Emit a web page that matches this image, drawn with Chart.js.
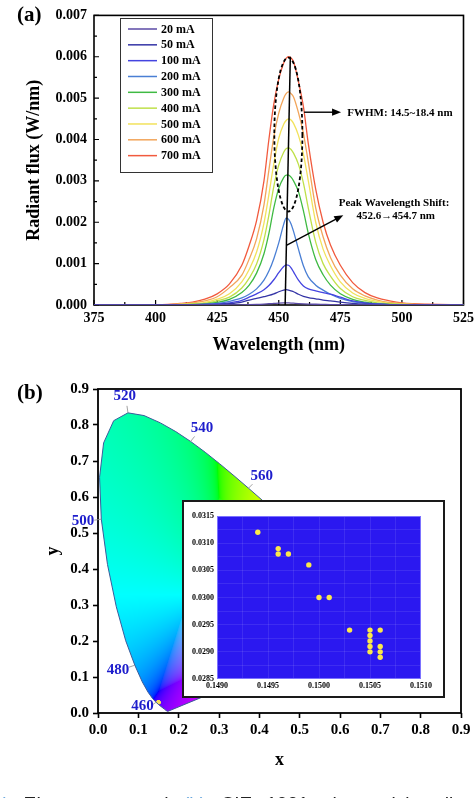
<!DOCTYPE html>
<html>
<head>
<meta charset="utf-8">
<script src="https://cdn.jsdelivr.net/npm/chart.js@4.4.1/dist/chart.umd.min.js"></script>
<style>
  html, body { margin: 0; padding: 0; background: #fff; }
  body { width: 474px; height: 798px; overflow: hidden; position: relative; }
  .abs { position: absolute; }
  .tag { font: bold 21px "Liberation Serif", "Times New Roman", serif; line-height: 24px; color: #000; }
  #insetBox { left: 182px; top: 500px; width: 263px; height: 198px; box-sizing: border-box;
    border: 2px solid #1a1a1a; background: #fff; }
  #caption { left: -14px; top: 793.5px; white-space: nowrap; font: 19px "Liberation Sans", Arial, sans-serif;
    line-height: 19px; color: #222; word-spacing: 9px; }
  #caption span { color: #6aa8de; }
</style>
</head>
<body>
<canvas id="spec" class="abs" width="490" height="365" style="left:0;top:0"></canvas>
<canvas id="cie" class="abs" width="474" height="433" style="left:0;top:365px"></canvas>
<div id="insetBox" class="abs"><canvas id="inset" width="259" height="194"></canvas></div>
<div class="abs tag" style="left:17px;top:2px">(a)</div>
<div class="abs tag" style="left:17px;top:380px">(b)</div>
<div id="caption" class="abs"><span>(a)</span> EL spectra and <span>(b)</span> CIE 1931 chromaticity diagram</div>
<script>
// Panel (a): EL spectra at several drive currents; panel (b): CIE 1931 diagram + zoomed inset.
const FONT = '"Liberation Serif", "Times New Roman", serif';
Chart.defaults.font.family = FONT;
Chart.defaults.font.weight = "bold";
Chart.defaults.color = "#000";

// ---------- (a) spectra ----------
const wavelengths = [375, 395, 405, 410, 415, 420, 425, 430, 435, 438, 441, 444, 446, 448, 450, 452, 453, 454,
  455, 456, 458, 460, 462, 465, 468, 471, 475, 480, 485, 490, 495, 500, 505, 510, 525];
const currentLabels = ["20 mA", "50 mA", "100 mA", "200 mA", "300 mA", "400 mA", "500 mA", "600 mA", "700 mA"];
const lineColors = ["#5b4aa6", "#3434a6", "#4444e0", "#4a7fd4", "#3fba43", "#bfe04a", "#f2e25c", "#f2a55a", "#f15a3e"];

const flux20 = [0, 0, 0, 0, 0, 0, 0, 0.000002, 0.000005, 0.000008, 0.000013, 0.000022, 0.00003, 0.000037, 0.000044,
  0.000049, 0.00005, 0.000049, 0.000047, 0.000043, 0.000035, 0.000028, 0.000023, 0.000018, 0.000014, 0.00001,
  0.000007, 0.000004, 0.000002, 0.000001, 0, 0, 0, 0, 0];
const flux50 = [0, 0, 0, 0, 0.000003, 0.000006, 0.00001, 0.00003, 0.00007, 0.00012, 0.00016, 0.0002, 0.00023, 0.00027,
  0.00032, 0.00036, 0.00037, 0.00036, 0.00034, 0.00032, 0.00026, 0.00021, 0.00018, 0.00015, 0.00012, 0.0001,
  0.00007, 0.00004, 0.00002, 0.00001, 0.000005, 0, 0, 0, 0];
const flux100 = [0, 0, 0, 0.000003, 0.000006, 0.000012, 0.000025, 0.00005, 0.00011, 0.00019, 0.00027, 0.00037, 0.00047,
  0.00061, 0.00078, 0.00093, 0.00097, 0.00096, 0.0009, 0.0008, 0.0006, 0.00046, 0.00039, 0.00034, 0.0003, 0.00026,
  0.00019, 0.0001, 0.00005, 0.000025, 0.00001, 0.000005, 0, 0, 0];
const flux200 = [0, 0, 0, 0.000005, 0.00001, 0.00002, 0.00004, 0.00009, 0.00017, 0.00026, 0.00039, 0.0006, 0.00082,
  0.00112, 0.0015, 0.00195, 0.0021, 0.00207, 0.00196, 0.00178, 0.00135, 0.00095, 0.00068, 0.00048, 0.00036, 0.00026,
  0.00016, 0.00008, 0.00004, 0.00002, 0.00001, 0.000005, 0, 0, 0];
const flux300 = [0, 0, 0, 0.000005, 0.000013, 0.000027, 0.000063, 0.000135, 0.0003, 0.00048, 0.00077, 0.00124, 0.00173,
  0.00235, 0.00282, 0.00308, 0.00314, 0.00314, 0.00309, 0.003, 0.00274, 0.00228, 0.00173, 0.0011, 0.00073, 0.00048,
  0.00027, 0.000135, 0.00007, 0.00003, 0.000016, 0.000007, 0.000003, 0, 0];
const flux400 = [0, 0, 0, 0.00001, 0.00002, 0.00004, 0.0001, 0.00019, 0.00041, 0.00065, 0.00099, 0.00158, 0.00217,
  0.00287, 0.00338, 0.00369, 0.00378, 0.0038, 0.00376, 0.00367, 0.0034, 0.00295, 0.00234, 0.00152, 0.001, 0.0007,
  0.0004, 0.0002, 0.00011, 0.000053, 0.000026, 0.000015, 0.000006, 0, 0];
const flux500 = [0, 0, 0.000005, 0.000016, 0.00003, 0.000065, 0.00014, 0.00027, 0.00056, 0.00086, 0.00128, 0.00198,
  0.00267, 0.00342, 0.00403, 0.00437, 0.00446, 0.0045, 0.00447, 0.00439, 0.0041, 0.00365, 0.003, 0.002, 0.00135,
  0.00095, 0.00056, 0.00029, 0.00016, 0.000086, 0.00004, 0.00002, 0.00001, 0.000005, 0];
const flux600 = [0, 0, 0.00001, 0.00003, 0.00005, 0.0001, 0.0002, 0.00042, 0.00072, 0.00111, 0.0016, 0.00242, 0.00326,
  0.00407, 0.00464, 0.005, 0.00511, 0.00515, 0.00511, 0.00503, 0.00465, 0.00415, 0.00345, 0.00235, 0.00165, 0.00115,
  0.00072, 0.00039, 0.00022, 0.00012, 0.00006, 0.00004, 0.00002, 0.00001, 0];
const flux700 = [0, 0, 0.000015, 0.00004, 0.00007, 0.00014, 0.00027, 0.00051, 0.00096, 0.00144, 0.00204, 0.003, 0.004,
  0.00486, 0.00546, 0.00585, 0.00596, 0.006, 0.00597, 0.00588, 0.0054, 0.0048, 0.0039, 0.0028, 0.002, 0.00145,
  0.00096, 0.00054, 0.0003, 0.00017, 0.0001, 0.00005, 0.00003, 0.00002, 0];
const fluxSeries = [flux20, flux50, flux100, flux200, flux300, flux400, flux500, flux600, flux700];

// ---------- (b) CIE 1931 spectral locus + measured coordinates ----------
const locusWave = [380, 390, 400, 410, 420, 430, 440, 450, 455, 460, 465, 470, 475, 480, 485, 490, 495, 500, 505, 510,
  515, 520, 525, 530, 535, 540, 545, 550, 555, 560, 565, 570, 575, 580, 585, 590, 595, 600, 605, 610, 620, 630, 640,
  650, 660, 680, 700];
const locusX = [0.1741, 0.1738, 0.1733, 0.1726, 0.1714, 0.1689, 0.1644, 0.1566, 0.1510, 0.1440, 0.1355, 0.1241, 0.1096,
  0.0913, 0.0687, 0.0454, 0.0235, 0.0082, 0.0039, 0.0139, 0.0389, 0.0743, 0.1142, 0.1547, 0.1929, 0.2296, 0.2658,
  0.3016, 0.3373, 0.3731, 0.4087, 0.4441, 0.4788, 0.5125, 0.5448, 0.5752, 0.6029, 0.6270, 0.6482, 0.6658, 0.6915,
  0.7079, 0.7190, 0.7260, 0.7300, 0.7334, 0.7347];
const locusY = [0.0050, 0.0049, 0.0048, 0.0048, 0.0051, 0.0069, 0.0109, 0.0177, 0.0227, 0.0297, 0.0399, 0.0578, 0.0868,
  0.1327, 0.2007, 0.2950, 0.4127, 0.5384, 0.6548, 0.7502, 0.8120, 0.8338, 0.8262, 0.8059, 0.7816, 0.7543, 0.7243,
  0.6923, 0.6589, 0.6245, 0.5896, 0.5547, 0.5202, 0.4866, 0.4544, 0.4242, 0.3965, 0.3725, 0.3514, 0.3340, 0.3083,
  0.2920, 0.2809, 0.2740, 0.2700, 0.2666, 0.2653];
const waveTags = [460, 480, 500, 520, 540, 560];

const cieX = [0.1494, 0.1496, 0.1496, 0.1497, 0.1499, 0.1500, 0.1501, 0.1503, 0.1505, 0.1505, 0.1505, 0.1505, 0.1505,
  0.1506, 0.1506, 0.1506, 0.1506];
const cieY = [0.0312, 0.0309, 0.0308, 0.0308, 0.0306, 0.0300, 0.0300, 0.0294, 0.0294, 0.0293, 0.0292, 0.0291, 0.0290,
  0.0294, 0.0291, 0.0290, 0.0289];

function pairs(xs, ys) {
  return xs.map((x, i) => ({ x, y: ys[i] }));
}

function arrow(ctx, [x1, y1], [x2, y2]) {
  const ang = Math.atan2(y2 - y1, x2 - x1), hl = 9, hw = 3.6;
  ctx.beginPath();
  ctx.moveTo(x1, y1);
  ctx.lineTo(x2 - hl * 0.8 * Math.cos(ang), y2 - hl * 0.8 * Math.sin(ang));
  ctx.stroke();
  ctx.beginPath();
  ctx.moveTo(x2, y2);
  ctx.lineTo(x2 - hl * Math.cos(ang) + hw * Math.sin(ang), y2 - hl * Math.sin(ang) - hw * Math.cos(ang));
  ctx.lineTo(x2 - hl * Math.cos(ang) - hw * Math.sin(ang), y2 - hl * Math.sin(ang) + hw * Math.cos(ang));
  ctx.closePath();
  ctx.fill();
}

// frame, inward ticks, legend and annotations of panel (a)
const specDecor = {
  id: "specDecor",
  beforeDatasetsDraw(chart) {
    const { ctx, chartArea: a, scales: { x, y } } = chart;
    ctx.save();
    ctx.strokeStyle = "#000";
    ctx.lineWidth = 1.6;
    ctx.strokeRect(a.left, a.top, a.right - a.left, a.bottom - a.top);
    ctx.lineWidth = 1.2;
    ctx.beginPath();
    const xt = x.ticks.map((t) => t.value);
    xt.forEach((v, i) => {
      const px = x.getPixelForValue(v);
      ctx.moveTo(px, a.bottom); ctx.lineTo(px, a.bottom - 5);
      if (i < xt.length - 1) {
        const pm = x.getPixelForValue((v + xt[i + 1]) / 2);
        ctx.moveTo(pm, a.bottom); ctx.lineTo(pm, a.bottom - 3);
      }
    });
    const yt = y.ticks.map((t) => t.value);
    yt.forEach((v, i) => {
      const py = y.getPixelForValue(v);
      ctx.moveTo(a.left, py); ctx.lineTo(a.left + 5, py);
      if (i < yt.length - 1) {
        const pm = y.getPixelForValue((v + yt[i + 1]) / 2);
        ctx.moveTo(a.left, pm); ctx.lineTo(a.left + 3, pm);
      }
    });
    ctx.stroke();
    ctx.restore();
  },
  afterDatasetsDraw(chart) {
    const { ctx, scales: { x, y } } = chart;
    const P = (wl, f) => [x.getPixelForValue(wl), y.getPixelForValue(f)];
    ctx.save();
    // legend
    ctx.strokeStyle = "#333";
    ctx.lineWidth = 1;
    ctx.strokeRect(120.5, 18.5, 92, 154);
    ctx.font = `bold 12px ${FONT}`;
    ctx.textBaseline = "middle";
    chart.data.datasets.forEach((ds, i) => {
      const yy = 29 + i * 15.83;
      ctx.strokeStyle = ds.borderColor;
      ctx.lineWidth = 1.5;
      ctx.beginPath(); ctx.moveTo(128, yy); ctx.lineTo(157, yy); ctx.stroke();
      ctx.fillStyle = "#000";
      ctx.fillText(ds.label, 161, yy + 0.5);
    });
    // peak shift line
    ctx.strokeStyle = "#000";
    ctx.fillStyle = "#000";
    ctx.lineWidth = 1.5;
    ctx.beginPath();
    ctx.moveTo(...P(452.6, 0));
    ctx.lineTo(...P(454.7, 0.006));
    ctx.stroke();
    // FWHM ellipse
    const [cx, cy] = P(453.9, 0.00412);
    const rx = x.getPixelForValue(459.6) - cx;
    const ry = cy - y.getPixelForValue(0.00598);
    ctx.setLineDash([3.5, 2.5]);
    ctx.lineWidth = 1.8;
    ctx.beginPath();
    ctx.ellipse(cx, cy, rx, ry, 0, 0, Math.PI * 2);
    ctx.stroke();
    ctx.setLineDash([]);
    // arrows + notes
    ctx.lineWidth = 1.4;
    arrow(ctx, P(460.3, 0.00466), P(475.3, 0.00466));
    arrow(ctx, P(453.1, 0.00144), P(476.2, 0.00217));
    ctx.font = `bold 11px ${FONT}`;
    ctx.textAlign = "left";
    const [fx, fy] = P(476.6, 0.00466);
    ctx.fillText("FWHM: 14.5~18.4 nm", fx + 3, fy + 0.5);
    ctx.textAlign = "center";
    ctx.fillText("Peak Wavelength Shift:", ...P(496.8, 0.00247));
    ctx.fillText("452.6\u2192454.7 nm", ...P(497.5, 0.00214));
    ctx.restore();
  },
};

new Chart(document.getElementById("spec"), {
  type: "line",
  data: {
    datasets: fluxSeries.map((s, i) => ({
      label: currentLabels[i],
      data: pairs(wavelengths, s),
      borderColor: lineColors[i],
      borderWidth: 1.3,
      pointRadius: 0,
      fill: false,
      cubicInterpolationMode: "monotone",
    })),
  },
  options: {
    responsive: false,
    animation: false,
    layout: { padding: { top: 9, right: 26.5, left: 0, bottom: 0 } },
    plugins: { legend: { display: false }, tooltip: { enabled: false } },
    scales: {
      x: {
        type: "linear",
        min: 375,
        max: 525,
        ticks: { stepSize: 25, font: { size: 14 }, padding: 5, maxRotation: 0 },
        grid: { display: false, drawTicks: false },
        border: { display: false },
        title: { display: true, text: "Wavelength (nm)", font: { size: 18 }, padding: { bottom: 9 } },
        afterFit: (s) => { s.height = 60; },
      },
      y: {
        min: 0,
        max: 0.007,
        ticks: { stepSize: 0.001, font: { size: 14 }, padding: 7, callback: (v) => v.toFixed(3) },
        grid: { display: false, drawTicks: false },
        border: { display: false },
        title: { display: true, text: "Radiant flux (W/nm)", font: { size: 18 }, padding: { top: 24 } },
        afterFit: (s) => { s.width = 94; },
      },
    },
  },
  plugins: [specDecor],
});

// xy chromaticity -> displayable sRGB (out-of-gamut colours desaturated towards white, then normalised)
function xyToRgb(cx, cy) {
  cy = Math.max(cy, 0.001);
  const X = cx / cy, Y = 1, Z = (1 - cx - cy) / cy;
  let r = 3.2406 * X - 1.5372 * Y - 0.4986 * Z;
  let g = -0.9689 * X + 1.8758 * Y + 0.0415 * Z;
  let b = 0.0557 * X - 0.204 * Y + 1.057 * Z;
  const lo = Math.min(r, g, b, 0);
  r -= lo; g -= lo; b -= lo;
  const m = Math.max(r, g, b) || 1;
  return [r / m, g / m, b / m].map((c) =>
    Math.round(255 * (c <= 0.0031308 ? 12.92 * c : 1.055 * Math.pow(c, 1 / 2.4) - 0.055))
  );
}

// label placement relative to the locus point: [textDx, textDy, leaderDx, leaderDy]
const tagOffsets = {
  460: [-13.5, 3.7, -3, 2],
  480: [-16.8, 4.8, -6, 2],
  500: [-18.3, 1.8, -7, 1],
  520: [-3.3, -16.3, -1, -7],
  540: [11.4, -13.2, 4, -5],
  560: [13.2, -12.2, 4, -4],
};

const cieDecor = {
  id: "cieDecor",
  beforeDatasetsDraw(chart) {
    const { ctx, chartArea: a, scales: { x, y } } = chart;
    const w = Math.round(a.right - a.left), h = Math.round(a.bottom - a.top);
    const off = document.createElement("canvas");
    off.width = w;
    off.height = h;
    const octx = off.getContext("2d");
    const img = octx.createImageData(w, h);
    for (let j = 0; j < h; j++) {
      const vy = y.getValueForPixel(a.top + j + 0.5);
      for (let i = 0; i < w; i++) {
        const rgb = xyToRgb(x.getValueForPixel(a.left + i + 0.5), vy);
        const k = (j * w + i) * 4;
        img.data[k] = rgb[0];
        img.data[k + 1] = rgb[1];
        img.data[k + 2] = rgb[2];
        img.data[k + 3] = 255;
      }
    }
    octx.putImageData(img, 0, 0);
    ctx.save();
    ctx.beginPath();
    locusX.forEach((lx, i) => {
      const px = x.getPixelForValue(lx), py = y.getPixelForValue(locusY[i]);
      if (i) ctx.lineTo(px, py); else ctx.moveTo(px, py);
    });
    ctx.closePath();
    ctx.clip();
    ctx.drawImage(off, a.left, a.top);
    ctx.restore();
  },
  afterDraw(chart) {
    const { ctx, chartArea: a, scales: { x, y } } = chart;
    ctx.save();
    ctx.strokeStyle = "#000";
    ctx.lineWidth = 1.8;
    ctx.strokeRect(a.left, a.top, a.right - a.left, a.bottom - a.top);
    ctx.font = `bold 15px ${FONT}`;
    ctx.textAlign = "center";
    ctx.textBaseline = "middle";
    waveTags.forEach((wl) => {
      const i = locusWave.indexOf(wl);
      const px = x.getPixelForValue(locusX[i]), py = y.getPixelForValue(locusY[i]);
      const [tx, ty, lx, ly] = tagOffsets[wl];
      ctx.strokeStyle = "#8a8a8a";
      ctx.lineWidth = 0.8;
      ctx.beginPath(); ctx.moveTo(px, py); ctx.lineTo(px + lx, py + ly); ctx.stroke();
      ctx.fillStyle = "#1d1dcc";
      ctx.fillText(String(wl), px + tx, py + ty);
    });
    ctx.restore();
  },
};

new Chart(document.getElementById("cie"), {
  type: "scatter",
  data: {
    datasets: [
      {
        label: "locus",
        data: pairs(locusX.concat(locusX[0]), locusY.concat(locusY[0])),
        showLine: true,
        borderColor: "#3b5b9b",
        borderWidth: 1,
        pointRadius: 0,
        tension: 0,
      },
      {
        label: "LED",
        data: pairs(cieX, cieY),
        pointRadius: 1.8,
        backgroundColor: "#f3df5a",
        borderWidth: 0,
      },
    ],
  },
  options: {
    responsive: false,
    animation: false,
    layout: { padding: { top: 24, right: 13, left: 0, bottom: 0 } },
    plugins: { legend: { display: false }, tooltip: { enabled: false } },
    scales: {
      x: {
        type: "linear",
        min: 0,
        max: 0.9,
        ticks: { stepSize: 0.1, font: { size: 15 }, padding: 3, maxRotation: 0, callback: (v) => v.toFixed(1) },
        grid: { drawOnChartArea: false, color: "#000", tickLength: 5, tickWidth: 1.6 },
        border: { display: false },
        title: { display: true, text: "x", font: { size: 18 }, padding: { bottom: 27 } },
        afterFit: (s) => { s.height = 85; },
      },
      y: {
        min: 0,
        max: 0.9,
        ticks: { stepSize: 0.1, font: { size: 15 }, padding: 4, callback: (v) => v.toFixed(1) },
        grid: { drawOnChartArea: false, color: "#000", tickLength: 5, tickWidth: 1.6 },
        border: { display: false },
        title: { display: true, text: "y", font: { size: 18 }, padding: { top: 43 } },
        afterFit: (s) => { s.width = 98; },
      },
    },
  },
  plugins: [cieDecor],
});

// ---------- inset (zoom of the measured points) ----------
const insetTick = (v) => (Math.round(v / 0.00025) % 2 === 0 ? v.toFixed(4) : "");
const insetBg = {
  id: "insetBg",
  beforeDraw(chart) {
    const { ctx, chartArea: a } = chart;
    ctx.save();
    ctx.fillStyle = "#2b18f0";
    ctx.fillRect(a.left, a.top, a.right - a.left, a.bottom - a.top);
    ctx.restore();
  },
  afterDraw(chart) {
    const { ctx, chartArea: a } = chart;
    ctx.save();
    ctx.strokeStyle = "#7c72ff";
    ctx.lineWidth = 1;
    ctx.strokeRect(a.left + 0.5, a.top + 0.5, a.right - a.left - 1, a.bottom - a.top - 1);
    ctx.restore();
  },
};

new Chart(document.getElementById("inset"), {
  type: "scatter",
  data: {
    datasets: [{ data: pairs(cieX, cieY), pointRadius: 2.7, backgroundColor: "#fbe84a", borderWidth: 0 }],
  },
  options: {
    responsive: false,
    animation: false,
    layout: { padding: { top: 14, right: 22, left: 0, bottom: 0 } },
    plugins: { legend: { display: false }, tooltip: { enabled: false } },
    scales: {
      x: {
        type: "linear",
        min: 0.149,
        max: 0.151,
        ticks: { stepSize: 0.00025, autoSkip: false, maxRotation: 0, font: { size: 8 }, padding: 2, callback: insetTick },
        grid: { color: "rgba(255,255,255,0.16)", lineWidth: 0.6, drawTicks: false },
        border: { display: false },
        afterFit: (s) => { s.height = 17; },
      },
      y: {
        min: 0.0285,
        max: 0.0315,
        ticks: { stepSize: 0.00025, autoSkip: false, font: { size: 8 }, padding: 3, callback: insetTick },
        grid: { color: "rgba(255,255,255,0.16)", lineWidth: 0.6, drawTicks: false },
        border: { display: false },
        afterFit: (s) => { s.width = 33; },
      },
    },
  },
  plugins: [insetBg],
});
</script>
</body>
</html>
